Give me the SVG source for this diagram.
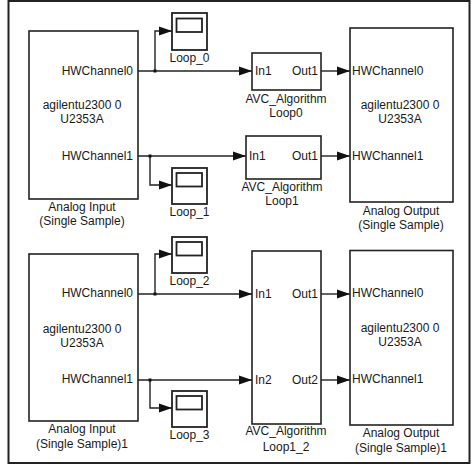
<svg xmlns="http://www.w3.org/2000/svg" width="474" height="476" viewBox="0 0 474 476">
<defs>
<style>
.b{fill:#fff;stroke:#222;stroke-width:1.6}
.s{fill:#fff;stroke:#222;stroke-width:1.8}
.w{fill:none;stroke:#222;stroke-width:1.4}
text{font-family:"Liberation Sans",Arial,sans-serif;font-size:12px;fill:#1a1a1a}
.m{text-anchor:middle}
.e{text-anchor:end}
</style>
<marker id="a" markerWidth="13" markerHeight="10" refX="13" refY="5" orient="auto" markerUnits="userSpaceOnUse">
<path d="M0,0.5 L13,5 L0,9.5 Z" fill="#111"/>
</marker>
</defs>
<rect width="474" height="476" fill="#fff"/>
<rect x="8.5" y="1" width="461" height="462" fill="none" stroke="#222" stroke-width="2"/>

<g id="connectors">
<path class="w" d="M138,71 H252" marker-end="url(#a)"/>
<path class="w" d="M155,71 V31 H172" marker-end="url(#a)"/>
<rect x="153.5" y="69.5" width="3" height="3" fill="#111"/>
<path class="w" d="M138,156 H246" marker-end="url(#a)"/>
<path class="w" d="M150,156 V185 H172" marker-end="url(#a)"/>
<rect x="148.5" y="154.5" width="3" height="3" fill="#111"/>
<path class="w" d="M321,71 H350" marker-end="url(#a)"/>
<path class="w" d="M321,156 H350" marker-end="url(#a)"/>

<path class="w" d="M138,294 H252" marker-end="url(#a)"/>
<path class="w" d="M155,294 V254 H172" marker-end="url(#a)"/>
<rect x="153.5" y="292.5" width="3" height="3" fill="#111"/>
<path class="w" d="M138,380 H252" marker-end="url(#a)"/>
<path class="w" d="M150,380 V408 H172" marker-end="url(#a)"/>
<rect x="148.5" y="378.5" width="3" height="3" fill="#111"/>
<path class="w" d="M321,294 H350" marker-end="url(#a)"/>
<path class="w" d="M321,380 H350" marker-end="url(#a)"/>
</g>

<g id="analog_input">
<rect class="b" x="29" y="31" width="109" height="168"/>
<text class="e" x="133" y="75">HWChannel0</text>
<text class="m" x="82" y="109">agilentu2300 0</text>
<text class="m" x="82" y="123">U2353A</text>
<text class="e" x="133" y="160">HWChannel1</text>
<text class="m" x="82" y="211">Analog Input</text>
<text class="m" x="82" y="225">(Single Sample)</text>
</g>

<g id="loop_0">
<rect class="s" x="172" y="13" width="35" height="37"/>
<rect class="s" x="176.5" y="18.5" width="25.5" height="13.5"/>
<text class="m" x="189.5" y="62">Loop_0</text>
</g>

<g id="loop_1">
<rect class="s" x="172" y="168" width="35" height="36"/>
<rect class="s" x="176.5" y="173" width="25.5" height="13.5"/>
<text class="m" x="189.5" y="216">Loop_1</text>
</g>

<g id="avc_loop0">
<rect class="b" x="252" y="53" width="69" height="37"/>
<text x="255" y="75">In1</text>
<text class="e" x="318" y="75">Out1</text>
<text class="m" x="286" y="103">AVC_Algorithm</text>
<text class="m" x="286" y="117">Loop0</text>
</g>

<g id="avc_loop1">
<rect class="b" x="246" y="136" width="75" height="43"/>
<text x="249" y="160">In1</text>
<text class="e" x="318" y="160">Out1</text>
<text class="m" x="282" y="191">AVC_Algorithm</text>
<text class="m" x="282" y="205">Loop1</text>
</g>

<g id="analog_output">
<rect class="b" x="350" y="28" width="103" height="174"/>
<text x="352" y="75">HWChannel0</text>
<text class="m" x="400" y="109">agilentu2300 0</text>
<text class="m" x="400" y="123">U2353A</text>
<text x="352" y="160">HWChannel1</text>
<text class="m" x="401" y="215">Analog Output</text>
<text class="m" x="401" y="229">(Single Sample)</text>
</g>

<g id="analog_input_1">
<rect class="b" x="29" y="254" width="109" height="167"/>
<text class="e" x="133" y="297">HWChannel0</text>
<text class="m" x="82" y="333">agilentu2300 0</text>
<text class="m" x="82" y="347">U2353A</text>
<text class="e" x="133" y="383">HWChannel1</text>
<text class="m" x="82" y="433">Analog Input</text>
<text class="m" x="82" y="448">(Single Sample)1</text>
</g>

<g id="loop_2">
<rect class="s" x="172" y="237" width="35" height="36"/>
<rect class="s" x="176.5" y="242" width="25.5" height="13.5"/>
<text class="m" x="189.5" y="285">Loop_2</text>
</g>

<g id="loop_3">
<rect class="s" x="172" y="391" width="35" height="36"/>
<rect class="s" x="176.5" y="396" width="25.5" height="13.5"/>
<text class="m" x="189.5" y="439">Loop_3</text>
</g>

<g id="avc_loop1_2">
<rect class="b" x="252" y="251" width="69" height="173"/>
<text x="255" y="298">In1</text>
<text class="e" x="318" y="298">Out1</text>
<text x="255" y="384">In2</text>
<text class="e" x="318" y="384">Out2</text>
<text class="m" x="286" y="435">AVC_Algorithm</text>
<text class="m" x="286" y="451">Loop1_2</text>
</g>

<g id="analog_output_1">
<rect class="b" x="350" y="250.5" width="103" height="174.5"/>
<text x="352" y="297">HWChannel0</text>
<text class="m" x="400" y="332">agilentu2300 0</text>
<text class="m" x="400" y="346">U2353A</text>
<text x="352" y="383">HWChannel1</text>
<text class="m" x="401" y="437">Analog Output</text>
<text class="m" x="401" y="452">(Single Sample)1</text>
</g>
</svg>
